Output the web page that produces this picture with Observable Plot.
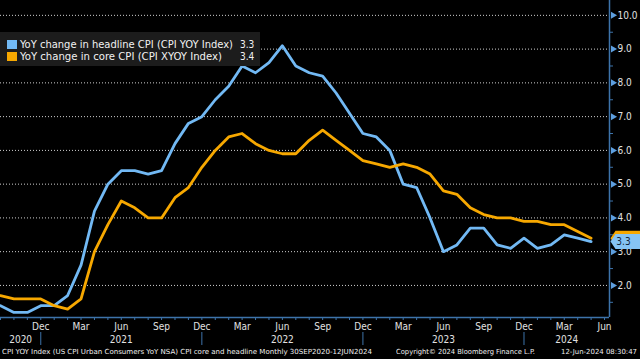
<!DOCTYPE html>
<html><head><meta charset="utf-8">
<script src="https://cdn.jsdelivr.net/npm/d3@7"></script>
<script src="https://cdn.jsdelivr.net/npm/@observablehq/plot@0.6"></script>
<style>
html,body{margin:0;padding:0;background:#000;}
#wrap{position:relative;width:640px;height:359px;background:#000;overflow:hidden;font-family:"DejaVu Sans Condensed","DejaVu Sans",sans-serif;font-stretch:condensed;}
#chart svg{display:block}
#legend{position:absolute;left:0;top:32px;width:260px;height:34px;background:#1c1c1c;}
.row{position:absolute;left:0;height:12px;width:260px;font-size:10px;color:#f2f2f2;line-height:12px;white-space:nowrap}
.sw{position:absolute;left:7px;top:1px;width:10px;height:9px}
.lab{position:absolute;left:20px;top:0;transform-origin:0 50%}
.val{position:absolute;left:240px;top:0}
#footer{position:absolute;left:0;top:345px;width:640px;height:14px;font-size:7px;color:#eee;}
#footer span{position:absolute;top:3px;white-space:nowrap;transform-origin:0 50%;line-height:8px}
</style></head><body>
<div id="wrap"><div id="chart"></div><div id="legend"></div><div id="footer"></div></div>
<script>
// ---- data ----
const months = ["2020-09","2020-10","2020-11","2020-12",
  "2021-01","2021-02","2021-03","2021-04","2021-05","2021-06","2021-07","2021-08","2021-09","2021-10","2021-11","2021-12",
  "2022-01","2022-02","2022-03","2022-04","2022-05","2022-06","2022-07","2022-08","2022-09","2022-10","2022-11","2022-12",
  "2023-01","2023-02","2023-03","2023-04","2023-05","2023-06","2023-07","2023-08","2023-09","2023-10","2023-11","2023-12",
  "2024-01","2024-02","2024-03","2024-04","2024-05","2024-06"];
const headline = [1.4,1.2,1.2,1.4,
  1.4,1.7,2.6,4.2,5.0,5.4,5.4,5.3,5.4,6.2,6.8,7.0,
  7.5,7.9,8.5,8.3,8.6,9.1,8.5,8.3,8.2,7.7,7.1,6.5,
  6.4,6.0,5.0,4.9,4.0,3.0,3.2,3.7,3.7,3.2,3.1,3.4,
  3.1,3.2,3.5,3.4,3.3];
const core = [1.7,1.6,1.6,1.6,
  1.4,1.3,1.6,3.0,3.8,4.5,4.3,4.0,4.0,4.6,4.9,5.5,
  6.0,6.4,6.5,6.2,6.0,5.9,5.9,6.3,6.6,6.3,6.0,5.7,
  5.6,5.5,5.6,5.5,5.3,4.8,4.7,4.3,4.1,4.0,4.0,3.9,
  3.9,3.8,3.8,3.6,3.4];
const seriesNames = ["YoY change in headline CPI (CPI YOY Index)", "YoY change in core CPI (CPI XYOY Index)"];
const yMajor = [2,3,4,5,6,7,8,9,10];
const yMinor = [1.5,2.5,3.5,4.5,5.5,6.5,7.5,8.5,9.5];
const yearLabels = ["2020","2021","2022","2023","2024"];
const footerTexts = ["CPI YOY Index (US CPI Urban Consumers YoY NSA) CPI core and headline  Monthly 30SEP2020-12JUN2024",
  "Copyright\u00a9 2024 Bloomberg Finance L.P.", "12-Jun-2024 08:30:47"];

// ---- styles ----
const blue = "#72b9f4", orange = "#f7a800", axisC = "#3d73aa", triC = "#5d9fe0", txt = "#e2e2e2";
const xMax = 45.37, yMin = 1.05, yMax = 10.44;

const data = headline.map((v, i) => ({i, headline: v, core: core[i]}));
const parse = d3.utcParse("%Y-%m"), fmtMon = d3.utcFormat("%b");
const allIdx = months.map((m, i) => i);
const quarterIdx = allIdx.filter(i => i > 0 && [3,6,9,12].includes(+months[i].slice(5)));
const yearBounds = allIdx.filter(i => months[i].slice(5) === "12");
const edges = [0, ...yearBounds, xMax];
const yearCenters = yearLabels.map((y, k) => (edges[k] + edges[k+1]) / 2);
const yearMap = new Map(yearCenters.map((c, k) => [c, yearLabels[k]]));
const lastHead = headline[headline.length - 1], lastCore = core[core.length - 1];

const tag = {draw(ctx) { ctx.moveTo(1, 0); ctx.lineTo(6, -7.5); ctx.lineTo(32, -7.5); ctx.lineTo(32, 7.5); ctx.lineTo(6, 7.5); ctx.closePath(); }};

const chart = Plot.plot({
  width: 640, height: 345,
  marginLeft: 0, marginRight: 31, marginTop: 0, marginBottom: 28,
  style: {background: "#000", color: txt, fontFamily: "'DejaVu Sans Condensed','DejaVu Sans',sans-serif", fontSize: "10px", overflow: "visible"},
  x: {domain: [0, xMax], label: null},
  y: {domain: [yMin, yMax], label: null},
  marks: [
    Plot.ruleY(yMajor, {x1: 0, x2: xMax, stroke: "#cfcfcf", strokeDasharray: "1,2", strokeWidth: 1}),
    Plot.line(data, {x: "i", y: "headline", stroke: blue, strokeWidth: 2.8}),
    Plot.line(data, {x: "i", y: "core", stroke: orange, strokeWidth: 2.8}),
    Plot.ruleY([yMin], {x1: 0, x2: xMax, stroke: axisC, strokeWidth: 1.5}),
    Plot.ruleX([xMax], {stroke: axisC, strokeWidth: 1.5}),
    Plot.axisX({ticks: allIdx, tickSize: 3, tickFormat: () => "", stroke: axisC}),
    Plot.axisX({ticks: quarterIdx, tickSize: 0, tickPadding: 5, tickFormat: i => fmtMon(parse(months[i])), fill: txt, fontSize: 10}),
    Plot.axisX({ticks: yearCenters, tickSize: 0, tickPadding: 18, tickFormat: c => yearMap.get(c), fill: txt, fontSize: 10}),
    Plot.axisX({ticks: yearBounds, tickSize: 13, dy: 15, tickFormat: () => "", stroke: axisC}),
    Plot.axisY({ticks: yMinor, anchor: "right", tickSize: 3, tickFormat: () => "", stroke: axisC}),
    Plot.dot(yMajor, {x: xMax, y: d => d, symbol: "triangle", r: 2.6, fill: triC, rotate: 90, dx: 3.5}),
    Plot.axisY({ticks: yMajor, anchor: "right", tickSize: 0, tickPadding: 8, tickFormat: d => d.toFixed(1), fill: txt, fontSize: 10}),
    Plot.dot([lastCore], {x: xMax, y: d => d, symbol: tag, r: 5, fill: orange}),
    Plot.dot([lastHead], {x: xMax, y: d => d, symbol: tag, r: 5, fill: "#86c4f4"}),
    Plot.text([lastHead], {x: xMax, y: d => d, dx: 14, text: d => d.toFixed(1), fill: "#14263a", fontSize: 10})
  ]
});
document.getElementById("chart").appendChild(chart);

// legend
const legend = document.getElementById("legend");
const legendItems = [[seriesNames[0], blue, lastHead, 213], [seriesNames[1], orange, lastCore, 202]];
legendItems.forEach(([name, col, v, w], k) => {
  const row = document.createElement("div");
  row.className = "row"; row.style.top = (7 + k * 12) + "px";
  row.innerHTML = `<div class="sw" style="background:${col}"></div><span class="lab">${name}</span><span class="val">${v.toFixed(1)}</span>`;
  legend.appendChild(row);
  const lab = row.querySelector(".lab");
  const r = lab.getBoundingClientRect().width;
  if (r > 0) lab.style.transform = `scaleX(${w / r})`;
});

// footer
const footer = document.getElementById("footer");
[[footerTexts[0], 2, 370], [footerTexts[1], 396, 139], [footerTexts[2], 561, 76]].forEach(([t, x, w]) => {
  const s = document.createElement("span");
  s.textContent = t; s.style.left = x + "px";
  footer.appendChild(s);
  const r = s.getBoundingClientRect().width;
  if (r > 0) s.style.transform = `scaleX(${w / r})`;
});
</script>
</body></html>
